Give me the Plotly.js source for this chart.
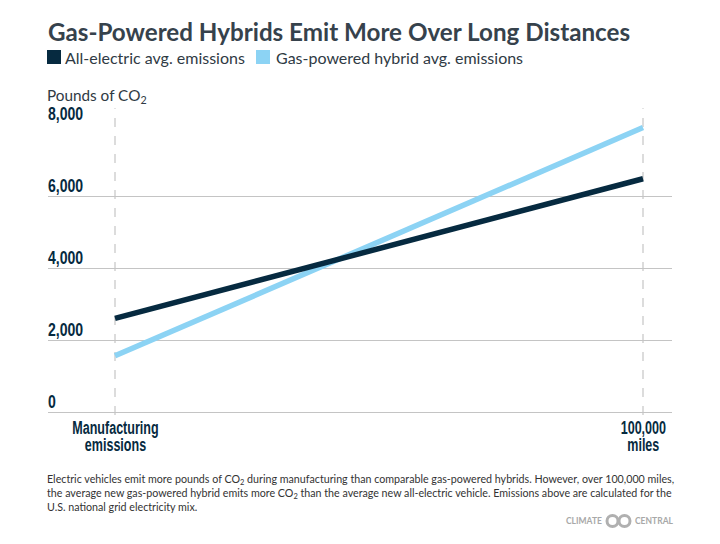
<!DOCTYPE html>
<html>
<head>
<meta charset="utf-8">
<script src="https://cdn.plot.ly/plotly-3.0.1.min.js"></script>
<style>html,body{margin:0;padding:0;background:#fff;}#chart{width:720px;height:544px;}</style>
</head>
<body>
<div id="chart"></div>
<script>
// ---- data ----
const positions = [0, 1];
const xLabelLines = [["Manufacturing", "emissions"], ["100,000", "miles"]];
const electricName = "All-electric avg. emissions";
const electricValues = [2600, 6480];
const hybridName = "Gas-powered hybrid avg. emissions";
const hybridValues = [1560, 7900];
const yTickVals = [0, 2000, 4000, 6000, 8000];
const yTickText = ["0", "2,000", "4,000", "6,000", "8,000"];

const darkColor = "#062a40";
const lightColor = "#8cd3f4";
const condensed = "'Liberation Sans', Arial, sans-serif";
const body = "Lato, 'Open Sans', sans-serif";

const traces = [
  {x: positions, y: hybridValues, name: hybridName, type: "scatter", mode: "lines",
   line: {color: lightColor, width: 5.5}, hoverinfo: "skip"},
  {x: positions, y: electricValues, name: electricName, type: "scatter", mode: "lines",
   line: {color: darkColor, width: 5.5}, hoverinfo: "skip"}
];

const plotW = 720 - 96, plotH = 544 - 256;
function px(x) { return (x - 48) / plotW; }
function py(y) { return (412 - y) / plotH; }

const annotations = [];
const shapes = [];
const condensedIdx = []; // [index, anchor, scale]

// y tick labels above gridlines
yTickVals.forEach((v, i) => {
  condensedIdx.push([annotations.length, "left", 0.74]);
  annotations.push({xref: "paper", yref: "y", x: 0, y: v, xanchor: "left", yanchor: "bottom",
    text: yTickText[i], showarrow: false, yshift: -2, xshift: -2,
    font: {family: condensed, size: 19, color: darkColor, weight: 700}});
});

// x category labels (two lines each)
xLabelLines.forEach((lines, i) => {
  lines.forEach((t, j) => {
    condensedIdx.push([annotations.length, "center", 0.66]);
    annotations.push({xref: "x", yref: "paper", x: positions[i], y: py(427 + j * 17), xanchor: "center",
      yanchor: "middle", text: t, showarrow: false,
      font: {family: condensed, size: 19, color: darkColor, weight: 700}});
  });
});

// vertical dashed guides
positions.forEach(p => {
  shapes.push({type: "line", xref: "x", yref: "paper", x0: p, x1: p, y0: -0.01, y1: 1.055,
    line: {color: "#dcdcdc", width: 2, dash: "dash"}, layer: "below"});
});

// legend
const legendItems = [[electricName, darkColor, 47, 65], [hybridName, lightColor, 256, 276]];
legendItems.forEach(it => {
  shapes.push({type: "rect", xref: "paper", yref: "paper", x0: px(it[2]), x1: px(it[2] + 14),
    y0: py(64), y1: py(50), fillcolor: it[1], line: {width: 0}});
  annotations.push({xref: "paper", yref: "paper", x: px(it[3]), y: py(57), xanchor: "left",
    yanchor: "middle", showarrow: false, text: it[0], xshift: -2,
    font: {family: body, size: 16, color: "#2f3a44"}});
});

// y axis title
annotations.push({xref: "paper", yref: "paper", x: px(47), y: py(96), xanchor: "left", yanchor: "middle",
  showarrow: false, text: "Pounds of CO<sub>2</sub>", xshift: -2,
  font: {family: body, size: 15.3, color: "#2f3a44"}});

// footnote
annotations.push({xref: "paper", yref: "paper", x: px(47), y: py(470), xanchor: "left", yanchor: "top",
  showarrow: false, align: "left", xshift: -2,
  text: "Electric vehicles emit more pounds of CO<sub>2</sub> during manufacturing than comparable gas-powered hybrids. However, over 100,000 miles,<br>the average new gas-powered hybrid emits more CO<sub>2</sub> than the average new all-electric vehicle. Emissions above are calculated for the<br>U.S. national grid electricity mix.",
  font: {family: body, size: 10.7, color: "#333"}});

// logo
annotations.push({xref: "paper", yref: "paper", x: px(604), y: py(521), xanchor: "right", yanchor: "middle",
  showarrow: false, text: "CLIMATE", font: {family: body, size: 8.5, color: "#a8a8a8", weight: 700}});
annotations.push({xref: "paper", yref: "paper", x: px(633), y: py(521), xanchor: "left", yanchor: "middle",
  showarrow: false, text: "CENTRAL", font: {family: body, size: 8.5, color: "#a8a8a8", weight: 700}});
[[607, 618], [619, 630]].forEach(c => {
  shapes.push({type: "circle", xref: "paper", yref: "paper", x0: px(c[0]), x1: px(c[1]),
    y0: py(526.5), y1: py(515.5), line: {color: "#b0b0b0", width: 3}, fillcolor: "rgba(0,0,0,0)"});
});

const layout = {
  width: 720, height: 544,
  margin: {l: 48, r: 48, t: 124, b: 132},
  paper_bgcolor: "#fff", plot_bgcolor: "#fff",
  showlegend: false,
  title: {text: "Gas-Powered Hybrids Emit More Over Long Distances", x: 0, xref: "paper", xanchor: "left",
    y: 1 - 33/544, yanchor: "middle",
    font: {family: body, size: 24.2, color: "#36424c", weight: 700}},
  xaxis: {range: [-67/528, 1 + 29/528], tickvals: positions, showticklabels: false, showgrid: false,
    zeroline: false, showline: false, ticks: "", fixedrange: true},
  yaxis: {range: [0, 8000], tickvals: yTickVals, showticklabels: false, showgrid: true,
    gridcolor: "#c4c4c4", gridwidth: 1, zeroline: true, zerolinecolor: "#c4c4c4", zerolinewidth: 1,
    showline: false, ticks: "", fixedrange: true},
  shapes: shapes,
  annotations: annotations
};

Plotly.newPlot("chart", traces, layout, {displayModeBar: false, staticPlot: true}).then(gd => {
  condensedIdx.forEach(([idx, anchor, s]) => {
    const g = gd.querySelector('g.annotation[data-index="' + idx + '"]');
    if (!g) return;
    const t = g.querySelector('text');
    if (!t) return;
    const bb = t.getBBox();
    const ox = anchor === "left" ? bb.x : bb.x + bb.width / 2;
    const prev = t.getAttribute('transform') || '';
    t.setAttribute('transform', 'translate(' + ox + ',0) scale(' + s + ',1) translate(' + (-ox) + ',0) ' + prev);
  });
});
</script>
</body>
</html>
